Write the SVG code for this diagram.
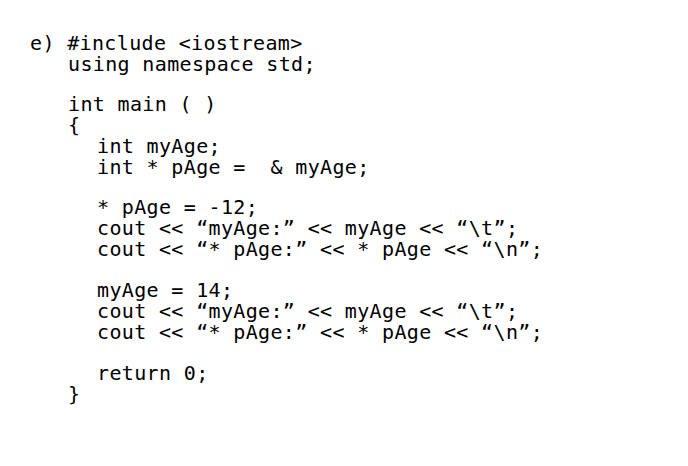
<svg xmlns="http://www.w3.org/2000/svg" width="688" height="466" viewBox="0 0 688 466">
<style>text{font-family:"DejaVu Sans Mono","Liberation Mono",monospace;font-size:20px;letter-spacing:0.35px;fill:#000;white-space:pre}</style>
<rect width="688" height="466" fill="#fff"/>
<g id="code" xml:space="preserve">
<text x="30" y="50">e) #include &lt;iostream&gt;</text>
<text x="68" y="71">using namespace std;</text>
<text x="68" y="111">int main ( )</text>
<text x="68" y="132">{</text>
<text x="97" y="153">int myAge;</text>
<text x="97" y="174">int * pAge =  &amp; myAge;</text>
<text x="97" y="214">* pAge = -12;</text>
<text x="97" y="235">cout &lt;&lt; “myAge:” &lt;&lt; myAge &lt;&lt; “\t”;</text>
<text x="97" y="256">cout &lt;&lt; “* pAge:” &lt;&lt; * pAge &lt;&lt; “\n”;</text>
<text x="97" y="297">myAge = 14;</text>
<text x="97" y="318">cout &lt;&lt; “myAge:” &lt;&lt; myAge &lt;&lt; “\t”;</text>
<text x="97" y="339">cout &lt;&lt; “* pAge:” &lt;&lt; * pAge &lt;&lt; “\n”;</text>
<text x="97" y="380">return 0;</text>
<text x="68" y="401">}</text>
</g>
</svg>
